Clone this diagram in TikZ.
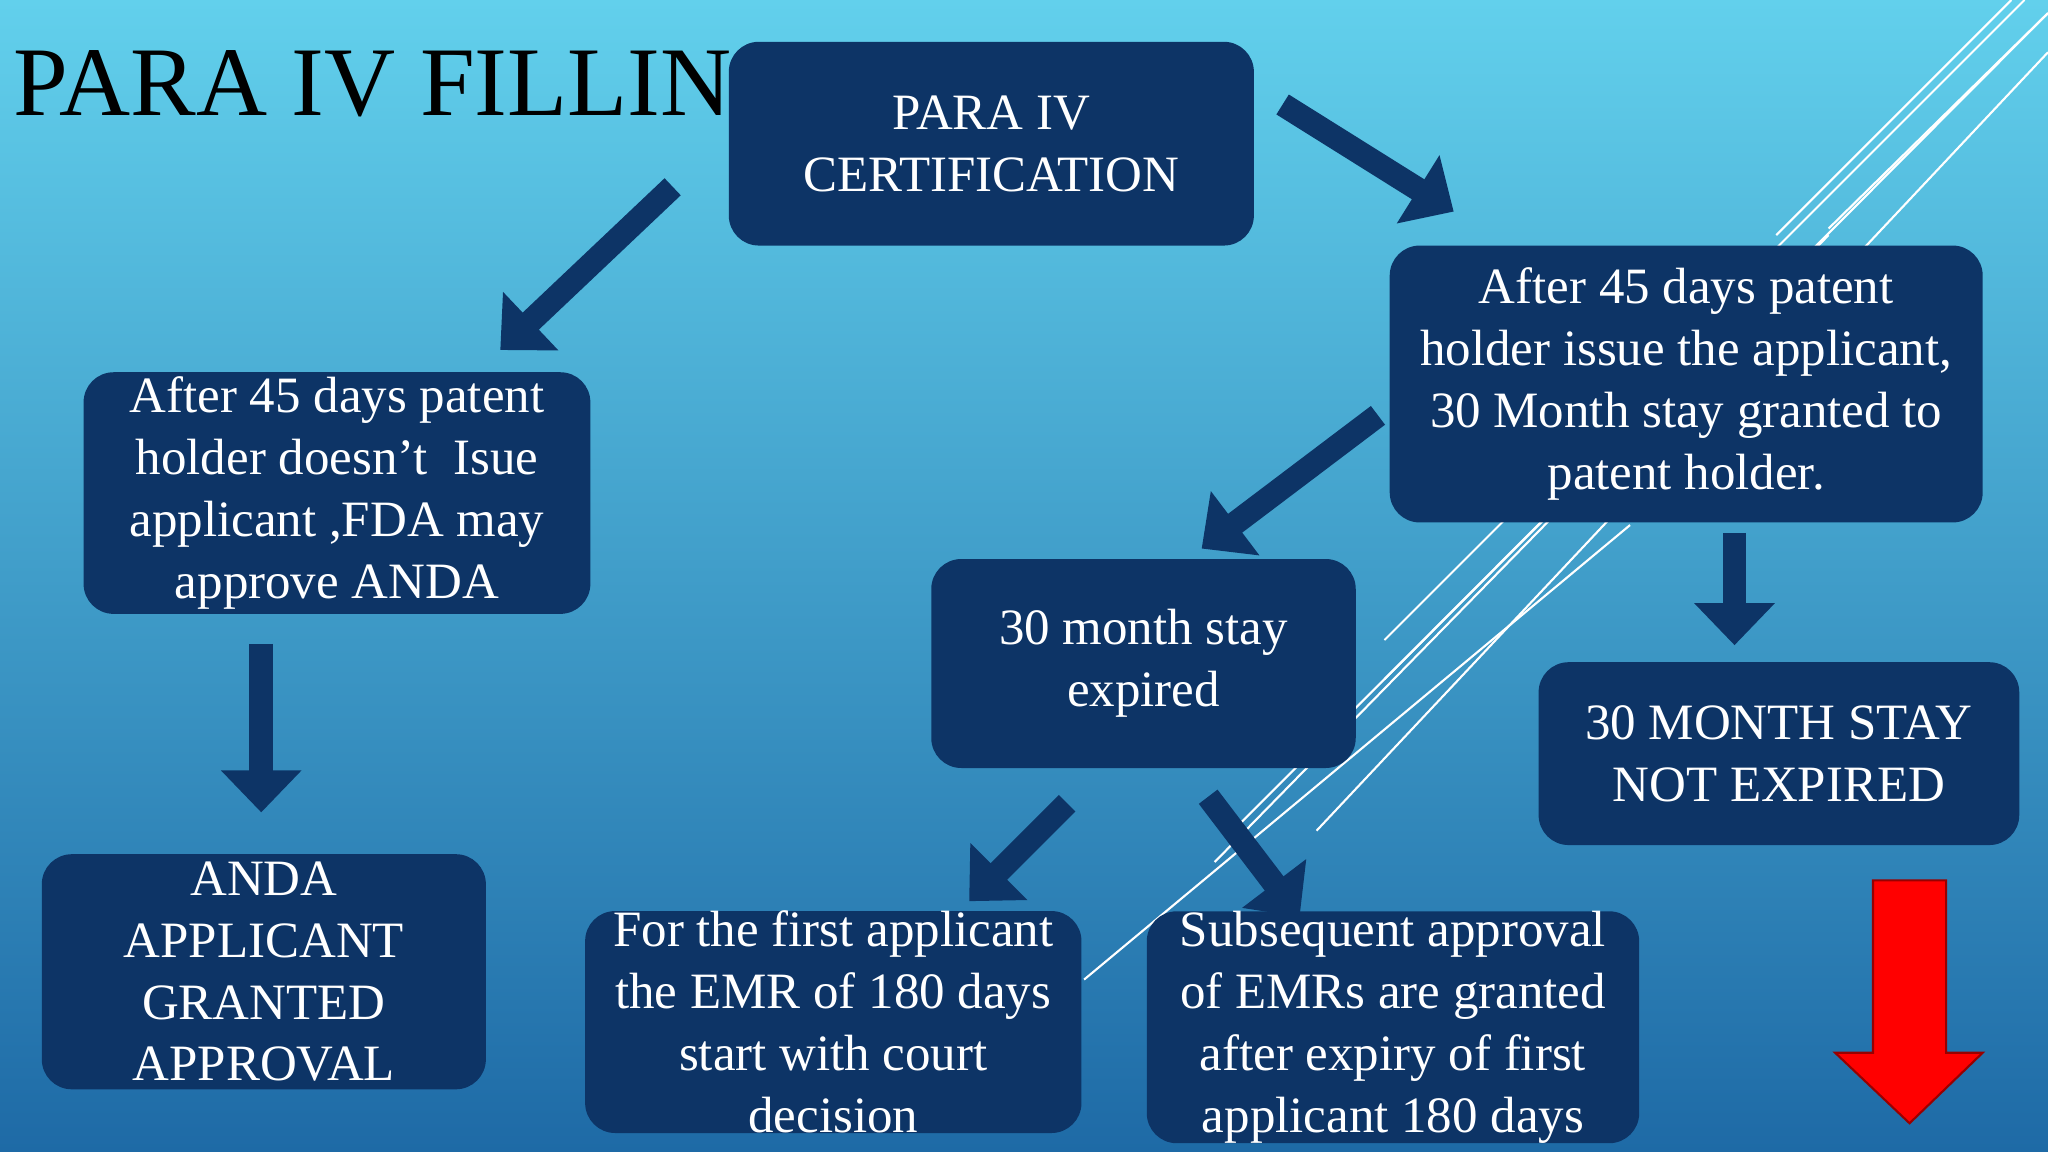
\documentclass[tikz,border=0pt]{standalone}
\usepackage{fontspec}
\setmainfont{Liberation Serif}
\usetikzlibrary{arrows.meta}
\definecolor{navy}{HTML}{0D3466}
\definecolor{bgtop}{HTML}{62D0EC}
\definecolor{bgbot}{HTML}{1E6AA6}
\tikzset{
  box/.style={fill=navy,rounded corners=0.3cm,text=white,align=center,inner sep=0pt,
    font=\fontsize{14.5}{17.6}\selectfont},
  blk/.style={navy,line width=0.235cm,-{Triangle[length=0.42cm,width=0.78cm]}},
  deco/.style={white,line width=0.6pt}
}
\newcommand{\bx}[6]{\node[box,minimum width={(#4-#2)*0.013061cm},minimum height={(#5-#3)*0.013061cm}] (#1) at ({(#2+#4)/2},{(#3+#5)/2}) {#6};}
\begin{document}
\begin{tikzpicture}[x=0.013061cm,y=-0.013061cm]
\useasboundingbox (0,0) rectangle (1568,882);
\shade[top color=bgtop,bottom color=bgbot] (0,0) rectangle (1568,882);
% decorative lines
\foreach \a/\b/\c/\d in {830/750/1248/402, 1008/636/1568/40, 1060/490/1550/0, 1060/520/1568/10, 930/660/1400/180, 940/640/1380/200, 1360/180/1540/0, 1400/175/1568/10}
  \draw[deco] (\a,\b) -- (\c,\d);
\node[anchor=west,font=\fontsize{28}{30}\selectfont,inner sep=0pt] (title) at (10,64) {PARA IV FILLING};
\bx{cert}{558}{32}{960}{188}{PARA IV\\CERTIFICATION}
\bx{left}{64}{285}{452}{470}{After 45 days patent\\holder doesn't\ \ Isue\\applicant ,FDA may\\approve ANDA}
\bx{right}{1064}{188}{1518}{400}{After 45 days patent\\holder issue the applicant,\\30 Month stay granted to\\patent holder.}
\bx{exp}{713}{428}{1038}{588}{30 month stay\\expired}
\bx{nexp}{1178}{507}{1546}{647}{30 MONTH STAY\\NOT EXPIRED}
\bx{anda}{32}{654}{372}{834}{ANDA\\APPLICANT\\GRANTED\\APPROVAL}
\bx{first}{448}{703}{828}{862}{For the first applicant\\the EMR of 180 days\\start with court\\decision}
\bx{sub}{878}{703}{1255}{870}{Subsequent approval\\of EMRs are granted\\after expiry of first\\applicant 180 days}
\foreach \n/\x/\y in {a1/515/143, a2/383/268, b1/982/80, b2/1113/162, c1/1055/318, c2/920/420, d1/1328/408, d2/1328/494, e1/200/493, e2/200/622, f1/817/615, f2/742/690, g1/925/610, g2/995/702}
  \coordinate (\n) at (\x,\y);
\draw[blk] (a1) -- (a2);
\draw[blk] (b1) -- (b2);
\draw[blk] (c1) -- (c2);
\draw[blk] (d1) -- (d2);
\draw[blk] (e1) -- (e2);
\draw[blk] (f1) -- (f2);
\draw[blk] (g1) -- (g2);
% red arrow
\filldraw[fill=red,draw=red!60!black,line width=0.6pt] (1434,674) -- (1490,674) -- (1490,806) -- (1518,806) -- (1462,860) -- (1405,806) -- (1434,806) -- cycle;
\end{tikzpicture}
\end{document}
